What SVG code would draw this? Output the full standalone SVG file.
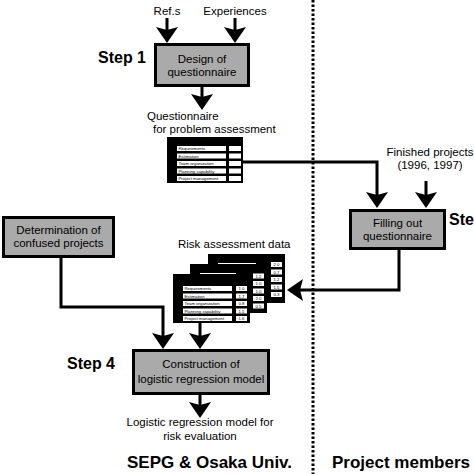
<svg xmlns="http://www.w3.org/2000/svg" width="474" height="474" viewBox="0 0 474 474">
<style>
text{font-family:"Liberation Sans",Arial,sans-serif;fill:#000}
.t{font-size:11.5px}
.c{text-anchor:middle}
.b{font-weight:bold;font-size:16px}
.big{font-weight:bold;font-size:17px}
.box{fill:#aaaaaa;stroke:#000;stroke-width:3}
.ln{fill:none;stroke:#000;stroke-width:3}
.sheet{fill:#000}
.cell{fill:#fff}
.tiny{font-size:4.3px}
.tl{stroke:#fff;stroke-width:1}
</style>
<defs>
<marker id="ah" markerUnits="userSpaceOnUse" markerWidth="20" markerHeight="22" viewBox="0 0 17 22" refX="10" refY="11" orient="auto">
<path d="M0,0 L16,11 L0,22 L3,11 Z" fill="#000"/>
</marker>
</defs>

<line x1="313" y1="0" x2="313" y2="474" stroke="#000" stroke-width="3" stroke-dasharray="2.5 2"/>

<g id="connectors">
<path class="ln" d="M167,18 V37" marker-end="url(#ah)"/>
<path class="ln" d="M235,18 V37" marker-end="url(#ah)"/>
<path class="ln" d="M202,87 V104" marker-end="url(#ah)"/>
<path class="ln" d="M243,162 H377 V202" marker-end="url(#ah)"/>
<path class="ln" d="M426,181 V202" marker-end="url(#ah)"/>
<path class="ln" d="M399,250 V290 H293" marker-end="url(#ah)"/>
<path class="ln" d="M61,258 V307 H163 V343" marker-end="url(#ah)"/>
<path class="ln" d="M200,323 V343" marker-end="url(#ah)"/>
<path class="ln" d="M200,395 V412" marker-end="url(#ah)"/>
</g>

<g id="inputs">
<text class="t c" x="167" y="15">Ref.s</text>
<text class="t c" x="235" y="15">Experiences</text>
</g>

<g id="step1">
<text class="b" x="98" y="63">Step 1</text>
<rect class="box" x="155.5" y="44.5" width="93" height="41"/>
<text class="t c" x="202" y="62.5">Design of</text>
<text class="t c" x="202" y="76">questionnaire</text>
</g>

<g id="questionnaire">
<text class="t" x="147" y="120">Questionnaire</text>
<text class="t" x="153" y="133">for problem assessment</text>
<rect class="sheet" x="167" y="137" width="76" height="46"/>
<g class="cell">
<rect x="177" y="146" width="49" height="5"/><rect x="229" y="146" width="12" height="5"/>
<rect x="177" y="153.5" width="49" height="5"/><rect x="229" y="153.5" width="12" height="5"/>
<rect x="177" y="161" width="49" height="5"/><rect x="229" y="161" width="12" height="5"/>
<rect x="177" y="168.5" width="49" height="5"/><rect x="229" y="168.5" width="12" height="5"/>
<rect x="177" y="176" width="49" height="5"/><rect x="229" y="176" width="12" height="5"/>
</g>
<text class="tiny" x="178.5" y="150">Requirements</text>
<text class="tiny" x="178.5" y="157.5">Estimation</text>
<text class="tiny" x="178.5" y="165">Team organization</text>
<text class="tiny" x="178.5" y="172.5">Planning capability</text>
<text class="tiny" x="178.5" y="180">Project management</text>
</g>

<g id="finished">
<text class="t c" x="430" y="156">Finished projects</text>
<text class="t c" x="430" y="169">(1996, 1997)</text>
</g>

<g id="step2">
<rect class="box" x="350.5" y="210.5" width="94" height="38"/>
<text class="t c" x="397.5" y="226.5">Filling out</text>
<text class="t c" x="397.5" y="240">questionnaire</text>
<text class="b" x="449" y="225">Ste</text>
</g>

<g id="determination">
<rect class="box" x="3.5" y="217.5" width="110" height="39"/>
<text class="t c" x="58.5" y="234">Determination of</text>
<text class="t c" x="58.5" y="247">confused projects</text>
</g>

<g id="riskdata">
<text class="t" x="178" y="248">Risk assessment data</text>
<g transform="translate(208,254)">
<rect class="sheet" width="77" height="49"/>
<line class="tl" x1="10" y1="9.5" x2="48" y2="9.5"/>
<g class="cell">
<rect x="63" y="8" width="11" height="5"/><rect x="63" y="15.5" width="11" height="5"/><rect x="63" y="23" width="11" height="5"/><rect x="63" y="30.5" width="11" height="5"/><rect x="63" y="38" width="11" height="5"/>
</g>
<g class="tiny c">
<text x="68.5" y="12">2.0</text><text x="68.5" y="19.5">0.7</text><text x="68.5" y="27">1.2</text><text x="68.5" y="34.5">1.5</text><text x="68.5" y="42">0.3</text>
</g>
</g>
<g transform="translate(190,264)">
<rect class="sheet" width="77" height="49"/>
<line class="tl" x1="10" y1="9.5" x2="46" y2="9.5"/>
<g class="cell">
<rect x="63" y="9.5" width="11" height="5"/><rect x="63" y="17" width="11" height="5"/><rect x="63" y="24.5" width="11" height="5"/><rect x="63" y="32" width="11" height="5"/><rect x="63" y="39.5" width="11" height="5"/>
</g>
<g class="tiny c">
<text x="68.5" y="13.5">1.2</text><text x="68.5" y="21">1.0</text><text x="68.5" y="28.5">1.0</text><text x="68.5" y="36">2.0</text><text x="68.5" y="43.5">0.5</text>
</g>
</g>
<g transform="translate(173,274)">
<rect class="sheet" width="77" height="49"/>
<g class="cell">
<rect x="10" y="12" width="49" height="5"/><rect x="63" y="12" width="11" height="5"/>
<rect x="10" y="19.5" width="49" height="5"/><rect x="63" y="19.5" width="11" height="5"/>
<rect x="10" y="27" width="49" height="5"/><rect x="63" y="27" width="11" height="5"/>
<rect x="10" y="34.5" width="49" height="5"/><rect x="63" y="34.5" width="11" height="5"/>
<rect x="10" y="42" width="49" height="5"/><rect x="63" y="42" width="11" height="5"/>
</g>
<g class="tiny">
<text x="11.5" y="16">Requirements</text>
<text x="11.5" y="23.5">Estimation</text>
<text x="11.5" y="31">Team organization</text>
<text x="11.5" y="38.5">Planning capability</text>
<text x="11.5" y="46">Project management</text>
</g>
<g class="tiny c">
<text x="68.5" y="16">1.0</text><text x="68.5" y="23.5">1.7</text><text x="68.5" y="31">0.8</text><text x="68.5" y="38.5">1.5</text><text x="68.5" y="46">1.6</text>
</g>
</g>
</g>

<g id="step4">
<text class="b" x="67" y="369">Step 4</text>
<rect class="box" x="133.5" y="350.5" width="135" height="43"/>
<text class="t c" x="201" y="368">Construction of</text>
<text class="t c" x="201" y="383">logistic regression model</text>
</g>

<g id="output">
<text class="t c" x="200" y="426">Logistic regression model for</text>
<text class="t c" x="200" y="440">risk evaluation</text>
</g>

<g id="footer">
<text class="big" x="127" y="468">SEPG &amp; Osaka Univ.</text>
<text class="big" x="332" y="468">Project members</text>
</g>
</svg>
